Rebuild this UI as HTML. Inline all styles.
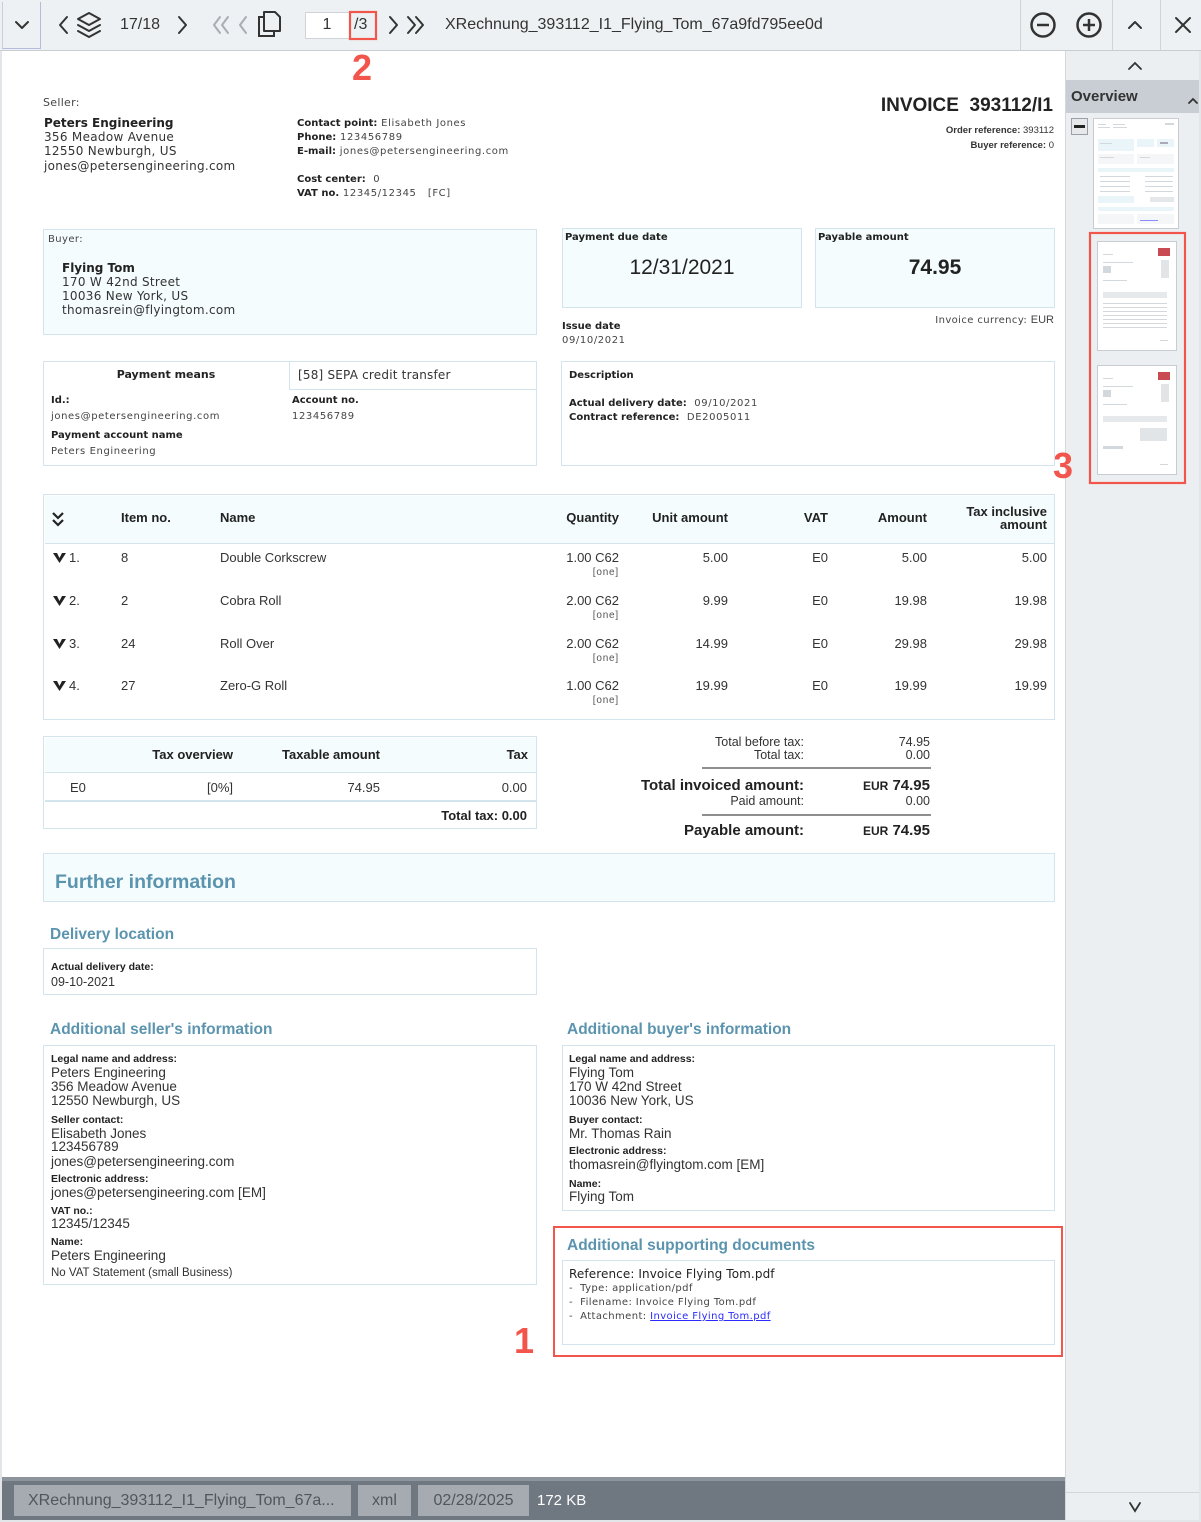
<!DOCTYPE html>
<html><head><meta charset="utf-8">
<style>
*{box-sizing:border-box}
body{margin:0;width:1201px;height:1522px;position:relative;overflow:hidden;background:#e3e6e9;font-family:"DejaVu Sans","Liberation Sans",sans-serif;color:#333}
.a{position:absolute}
.t{position:absolute;white-space:nowrap;line-height:14px;height:14px}
.s12{font-size:12px;letter-spacing:.3px;color:#333}
.s12b{font-size:11.5px;font-weight:bold;color:#222}
.s10{font-size:10px;letter-spacing:.6px;color:#444}
.b10{font-size:10px;font-weight:bold;color:#222}
.L{font-family:"Liberation Sans",sans-serif}
.tb{font-family:"Liberation Sans",sans-serif;font-size:13px;color:#333}
.tbh{font-family:"Liberation Sans",sans-serif;font-size:13px;font-weight:bold;color:#222}
.h{font-family:"Liberation Sans",sans-serif;font-weight:bold;color:#5b94ae;white-space:nowrap;position:absolute}
.box{position:absolute;border:1.5px solid #d3e4ec;background:#fff}
.cy{background:#f4fcfe}
.ci{font-family:"Liberation Sans",sans-serif;font-size:13.5px;color:#333}
.cl{font-family:"Liberation Sans",sans-serif;font-size:11.5px;font-weight:bold;color:#222}
.red{font-family:"Liberation Sans",sans-serif;font-weight:bold;color:#f2554c;position:absolute;font-size:36px;line-height:36px}
</style></head><body>

<!-- toolbar -->
<div class="a" style="left:0;top:0;width:1201px;height:51px;background:#eef1f3;border-bottom:1px solid #c8cdd1"></div>
<div class="a" style="left:2px;top:2px;width:39px;height:47px;border:1px solid #b4bbdd;border-top:none;border-left:1px solid #c9cde6"></div>
<svg class="a" style="left:0;top:0" width="1201" height="51" viewBox="0 0 1201 51">
 <g fill="none" stroke="#333" stroke-width="2" stroke-linecap="round" stroke-linejoin="round">
  <polyline points="16,22 22,28 28,22"/>
  <polyline points="67,17 60,25 67,33"/>
  <polygon points="78,19 89,13 100,19 89,25"/>
  <polyline points="78,25 89,31 100,25"/>
  <polyline points="78,31 89,37 100,31"/>
  <polyline points="179,17 186,25 179,33"/>
  <polyline points="390,17 397,25 390,33"/>
  <polyline points="408,17 415,25 408,33"/>
  <polyline points="416,17 423,25 416,33"/>
  <polyline points="1129,28 1135,22 1141,28"/>
  <line x1="1176" y1="18" x2="1190" y2="32"/><line x1="1190" y1="18" x2="1176" y2="32"/>
 </g>
 <g fill="none" stroke="#a9aeb4" stroke-width="2" stroke-linecap="round" stroke-linejoin="round">
  <polyline points="220,17 214,25 220,33"/>
  <polyline points="228,17 222,25 228,33"/>
  <polyline points="246,17 240,25 246,33"/>
 </g>
 <rect x="259" y="17" width="15" height="19" fill="#eef1f3" stroke="#333" stroke-width="2"/>
 <path d="M264 12 H275 L280 17 V31 H264 Z" fill="#eef1f3" stroke="#333" stroke-width="2" stroke-linejoin="round"/>
 <rect x="305.5" y="12.5" width="44" height="26" fill="#fff" stroke="#d0d4d8"/>
 <rect x="350" y="12" width="26" height="27" fill="none" stroke="#f2554c" stroke-width="2.2"/>
 <g stroke="#cfd4d8" stroke-width="1"><line x1="1020.5" y1="0" x2="1020.5" y2="50"/><line x1="1112.5" y1="0" x2="1112.5" y2="50"/><line x1="1160.5" y1="0" x2="1160.5" y2="50"/></g>
 <circle cx="1043" cy="25" r="11.5" fill="none" stroke="#333" stroke-width="2.5"/>
 <line x1="1037" y1="25" x2="1049" y2="25" stroke="#333" stroke-width="2.5"/>
 <circle cx="1089" cy="25" r="11.5" fill="none" stroke="#333" stroke-width="2.5"/>
 <line x1="1083" y1="25" x2="1095" y2="25" stroke="#333" stroke-width="2.5"/>
 <line x1="1089" y1="19" x2="1089" y2="31" stroke="#333" stroke-width="2.5"/>
</svg>
<div class="t L" style="left:120px;top:15px;font-size:16px;line-height:20px;height:20px;color:#333">17/18</div>
<div class="t L" style="left:305px;top:15px;width:44px;text-align:center;font-size:16px;line-height:20px;height:20px;color:#333">1</div>
<div class="t L" style="left:354px;top:15px;font-size:16px;line-height:20px;height:20px;color:#333">/3</div>
<div class="t L" style="left:445px;top:15px;font-size:16px;line-height:20px;height:20px;color:#333">XRechnung_393112_I1_Flying_Tom_67a9fd795ee0d</div>

<!-- document area -->
<div class="a" style="left:2px;top:51px;width:1063px;height:1427px;background:#fff"></div>

<!-- sidebar -->
<div class="a" style="left:1065px;top:51px;width:134px;height:1469px;background:#eceff1;border-left:1px solid #d5d9dc"></div>
<div class="a" style="left:1066px;top:80px;width:133px;height:33px;background:#c8ced3"></div>
<div class="t L" style="left:1071px;top:87px;font-size:15px;font-weight:bold;line-height:20px;height:20px;color:#333">Overview</div>
<div class="a" style="left:1066px;top:1492px;width:133px;height:1px;background:#d3d7da"></div>
<svg class="a" style="left:1065px;top:51px" width="136" height="1471" viewBox="1065 51 136 1471">
 <g fill="none" stroke="#333" stroke-width="1.8" stroke-linecap="round">
  <polyline points="1129,69 1135,63 1141,69"/>
  <polyline points="1189,103 1193,99 1197,103"/>
  <polyline points="1130,1503 1135,1511 1140,1503"/>
 </g>
 <rect x="1071.5" y="118.5" width="16" height="16" fill="#e6e8ea" stroke="#9aa0a6"/>
 <rect x="1074" y="125" width="11" height="3" fill="#222"/>
 <rect x="1093.5" y="118.5" width="85" height="110" fill="#fff" stroke="#c9cdd1"/>
 <g fill="#d3d8dc">
  <rect x="1098" y="124" width="8" height="1"/><rect x="1113" y="124" width="12" height="1"/><rect x="1165" y="123" width="9" height="2"/>
  <rect x="1098" y="127" width="12" height="1"/><rect x="1113" y="127" width="14" height="1"/>
  <rect x="1098" y="139" width="36" height="12" fill="#eaf5f9"/><rect x="1137" y="139" width="17" height="8" fill="#eaf5f9"/><rect x="1157" y="139" width="17" height="8" fill="#eaf5f9"/>
  <rect x="1100" y="143" width="12" height="1"/><rect x="1160" y="142" width="8" height="2" fill="#aab"/>
  <rect x="1098" y="154" width="36" height="10" fill="#f4f6f7"/><rect x="1137" y="154" width="37" height="10" fill="#f4f6f7"/>
  <rect x="1100" y="157" width="14" height="1"/><rect x="1140" y="157" width="10" height="1"/>
  <rect x="1098" y="168" width="76" height="4" fill="#eaf5f9"/>
  <rect x="1100" y="176" width="30" height="1"/><rect x="1145" y="176" width="28" height="1"/>
  <rect x="1100" y="181" width="30" height="1"/><rect x="1145" y="181" width="28" height="1"/>
  <rect x="1100" y="186" width="30" height="1"/><rect x="1145" y="186" width="28" height="1"/>
  <rect x="1100" y="191" width="30" height="1"/><rect x="1145" y="191" width="28" height="1"/>
  <rect x="1098" y="196" width="36" height="7" fill="#eaf5f9"/><rect x="1150" y="197" width="24" height="5" fill="#e5e8eb"/>
  <rect x="1098" y="207" width="76" height="4" fill="#eaf5f9"/>
  <rect x="1098" y="214" width="36" height="10" fill="#f4f6f7"/><rect x="1137" y="214" width="37" height="10" fill="#f4f6f7"/>
  <rect x="1140" y="220" width="18" height="1" fill="#8b8bff"/>
 </g>
 <rect x="1090" y="233" width="95" height="250" fill="none" stroke="#f2554c" stroke-width="2.2"/>
 <rect x="1097.5" y="241.5" width="79" height="109" fill="#fff" stroke="#c9cdd1"/>
 <rect x="1097.5" y="365.5" width="79" height="109" fill="#fff" stroke="#c9cdd1"/>
 <g fill="#d3d8dc">
  <rect x="1103" y="254" width="10" height="1"/><rect x="1158" y="248" width="12" height="8" fill="#c84a52"/>
  <rect x="1103" y="262" width="30" height="1"/><rect x="1103" y="266" width="8" height="7"/><rect x="1161" y="260" width="8" height="18" fill="#e2e5e8"/>
  <rect x="1103" y="280" width="24" height="1"/>
  <rect x="1103" y="292" width="64" height="6" fill="#e6e9ec"/>
  <rect x="1103" y="303" width="64" height="1"/><rect x="1103" y="307" width="64" height="1"/><rect x="1103" y="311" width="64" height="1"/><rect x="1103" y="315" width="64" height="1"/><rect x="1103" y="319" width="64" height="1"/><rect x="1103" y="323" width="64" height="1"/><rect x="1103" y="327" width="64" height="1"/>
  <rect x="1160" y="340" width="8" height="1"/>
  <rect x="1103" y="378" width="10" height="1"/><rect x="1158" y="372" width="12" height="8" fill="#c84a52"/>
  <rect x="1103" y="386" width="30" height="1"/><rect x="1103" y="390" width="8" height="7"/><rect x="1161" y="384" width="8" height="18" fill="#e2e5e8"/>
  <rect x="1103" y="404" width="24" height="1"/>
  <rect x="1103" y="416" width="64" height="6" fill="#e6e9ec"/>
  <rect x="1140" y="428" width="27" height="13" fill="#e2e5e8"/>
  <rect x="1103" y="446" width="20" height="3"/>
  <rect x="1160" y="464" width="8" height="1"/>
 </g>
</svg>

<!-- status bar -->
<div class="a" style="left:2px;top:1477px;width:1063px;height:43px;background:#6f7780;border-top:4px solid #8d949b"></div>
<div class="a L" style="left:14px;top:1485px;width:337px;height:31px;background:#a5abb1;color:#50565d;font-size:16px;line-height:31px;padding-left:14px;white-space:nowrap">XRechnung_393112_I1_Flying_Tom_67a...</div>
<div class="a L" style="left:358px;top:1485px;width:53px;height:31px;background:#a5abb1;color:#50565d;font-size:16px;line-height:31px;text-align:center">xml</div>
<div class="a L" style="left:418px;top:1485px;width:111px;height:31px;background:#a5abb1;color:#50565d;font-size:16px;line-height:31px;text-align:center">02/28/2025</div>
<div class="a L" style="left:537px;top:1485px;color:#fff;font-size:15px;line-height:31px">172 KB</div>

<!-- red markers -->
<div class="red" style="left:352px;top:50px">2</div>
<div class="red" style="left:1053px;top:448px">3</div>
<div class="red" style="left:514px;top:1323px">1</div>

<!-- header: seller -->
<div class="t s10" style="left:43px;top:96px;font-size:11px;letter-spacing:.3px">Seller:</div>
<div class="t" style="left:44px;top:116px;font-size:12px;font-weight:bold;color:#222">Peters Engineering</div>
<div class="t s12" style="left:44px;top:130px">356 Meadow Avenue</div>
<div class="t s12" style="left:44px;top:144px">12550 Newburgh, US</div>
<div class="t s12" style="left:44px;top:159px">jones@petersengineering.com</div>

<div class="t s10" style="left:297px;top:117px"><b style="color:#222;letter-spacing:0">Contact point:</b> Elisabeth Jones</div>
<div class="t s10" style="left:297px;top:131px"><b style="color:#222;letter-spacing:0">Phone:</b> 123456789</div>
<div class="t s10" style="left:297px;top:145px"><b style="color:#222;letter-spacing:0">E-mail:</b> jones@petersengineering.com</div>
<div class="t s10" style="left:297px;top:173px"><b style="color:#222;letter-spacing:0">Cost center:</b>&nbsp; 0</div>
<div class="t s10" style="left:297px;top:187px"><b style="color:#222;letter-spacing:0">VAT no.</b> 12345/12345 &nbsp;&nbsp;[FC]</div>

<div class="t L" style="right:148px;top:95px;font-size:19px;font-weight:bold;line-height:22px;height:22px;color:#222;text-align:right">INVOICE&nbsp; 393112/I1</div>
<div class="t L" style="right:147px;top:124px;font-size:9.5px;color:#333;text-align:right"><b>Order reference:</b> 393112</div>
<div class="t L" style="right:147px;top:139px;font-size:9.5px;color:#333;text-align:right"><b>Buyer reference:</b> 0</div>

<!-- buyer box -->
<div class="box cy" style="left:43px;top:229px;width:494px;height:106px"></div>
<div class="t s10" style="left:48px;top:233px;letter-spacing:.4px">Buyer:</div>
<div class="t" style="left:62px;top:261px;font-size:12px;font-weight:bold;color:#222">Flying Tom</div>
<div class="t s12" style="left:62px;top:275px">170 W 42nd Street</div>
<div class="t s12" style="left:62px;top:289px">10036 New York, US</div>
<div class="t s12" style="left:62px;top:303px">thomasrein@flyingtom.com</div>

<!-- payment due / payable -->
<div class="box cy" style="left:562px;top:228px;width:240px;height:80px"></div>
<div class="t b10" style="left:565px;top:231px">Payment due date</div>
<div class="t L" style="left:562px;top:255px;width:240px;text-align:center;font-size:21px;line-height:26px;height:26px;color:#222">12/31/2021</div>
<div class="box cy" style="left:815px;top:228px;width:240px;height:80px"></div>
<div class="t b10" style="left:818px;top:231px">Payable amount</div>
<div class="t L" style="left:815px;top:255px;width:240px;text-align:center;font-size:21px;font-weight:bold;line-height:26px;height:26px;color:#222">74.95</div>
<div class="t s10" style="right:147px;top:313px;text-align:right;letter-spacing:.4px">Invoice currency: <span style="font-family:'Liberation Sans';font-size:11px;letter-spacing:0">EUR</span></div>
<div class="t b10" style="left:562px;top:320px">Issue date</div>
<div class="t s10" style="left:562px;top:334px">09/10/2021</div>

<!-- payment means -->
<div class="box" style="left:43px;top:361px;width:494px;height:105px"></div>
<div class="a" style="left:289px;top:361px;width:248px;height:29px;border-left:1.5px solid #d3e4ec;border-bottom:1.5px solid #d3e4ec"></div>
<div class="t" style="left:43px;top:368px;width:246px;text-align:center;font-size:11px;font-weight:bold;color:#222">Payment means</div>
<div class="t s12" style="left:298px;top:368px;letter-spacing:.2px">[58] SEPA credit transfer</div>
<div class="t b10" style="left:51px;top:394px">Id.:</div>
<div class="t s10" style="left:51px;top:410px">jones@petersengineering.com</div>
<div class="t b10" style="left:51px;top:429px">Payment account name</div>
<div class="t s10" style="left:51px;top:445px">Peters Engineering</div>
<div class="t b10" style="left:292px;top:394px">Account no.</div>
<div class="t s10" style="left:292px;top:410px">123456789</div>

<!-- description -->
<div class="box" style="left:561px;top:361px;width:494px;height:105px"></div>
<div class="t b10" style="left:569px;top:369px">Description</div>
<div class="t s10" style="left:569px;top:397px"><b style="color:#222;letter-spacing:0">Actual delivery date:</b>&nbsp; 09/10/2021</div>
<div class="t s10" style="left:569px;top:411px"><b style="color:#222;letter-spacing:0">Contract reference:</b>&nbsp; DE2005011</div>

<!-- items table -->
<div class="box" style="left:43px;top:494px;width:1012px;height:226px"></div>
<div class="a cy" style="left:44.5px;top:495.5px;width:1009px;height:48px;border-bottom:1.5px solid #d3e4ec"></div>
<svg class="a" style="left:50px;top:510px" width="18" height="20" viewBox="0 0 18 20">
 <g fill="none" stroke="#222" stroke-width="2.2"><polyline points="3,3 8,8 13,3"/><polyline points="3,10 8,15 13,10"/></g>
</svg>
<div class="t tbh" style="left:121px;top:511px">Item no.</div>
<div class="t tbh" style="left:220px;top:511px">Name</div>
<div class="t tbh" style="right:582px;top:511px">Quantity</div>
<div class="t tbh" style="right:473px;top:511px">Unit amount</div>
<div class="t tbh" style="right:373px;top:511px">VAT</div>
<div class="t tbh" style="right:274px;top:511px">Amount</div>
<div class="t tbh" style="right:154px;top:505px;line-height:13px">Tax inclusive</div>
<div class="t tbh" style="right:154px;top:518px;line-height:13px">amount</div>

<svg class="a" style="left:53px;top:553px" width="14" height="150" viewBox="0 0 14 150">
 <g fill="#222">
  <path d="M0 0 H4 L6.5 5 L9 0 H13 L6.5 10 Z"/>
  <path d="M0 43 H4 L6.5 48 L9 43 H13 L6.5 53 Z"/>
  <path d="M0 86 H4 L6.5 91 L9 86 H13 L6.5 96 Z"/>
  <path d="M0 128 H4 L6.5 133 L9 128 H13 L6.5 138 Z"/>
 </g>
</svg>

<div class="t tb" style="left:69px;top:551px">1.</div>
<div class="t tb" style="left:121px;top:551px">8</div>
<div class="t tb" style="left:220px;top:551px">Double Corkscrew</div>
<div class="t tb" style="right:582px;top:551px">1.00 C62</div>
<div class="t tb" style="right:582px;top:566px;font-size:10px;letter-spacing:.8px;color:#555">[one]</div>
<div class="t tb" style="right:473px;top:551px">5.00</div>
<div class="t tb" style="right:373px;top:551px">E0</div>
<div class="t tb" style="right:274px;top:551px">5.00</div>
<div class="t tb" style="right:154px;top:551px">5.00</div>

<div class="t tb" style="left:69px;top:594px">2.</div>
<div class="t tb" style="left:121px;top:594px">2</div>
<div class="t tb" style="left:220px;top:594px">Cobra Roll</div>
<div class="t tb" style="right:582px;top:594px">2.00 C62</div>
<div class="t tb" style="right:582px;top:609px;font-size:10px;letter-spacing:.8px;color:#555">[one]</div>
<div class="t tb" style="right:473px;top:594px">9.99</div>
<div class="t tb" style="right:373px;top:594px">E0</div>
<div class="t tb" style="right:274px;top:594px">19.98</div>
<div class="t tb" style="right:154px;top:594px">19.98</div>

<div class="t tb" style="left:69px;top:637px">3.</div>
<div class="t tb" style="left:121px;top:637px">24</div>
<div class="t tb" style="left:220px;top:637px">Roll Over</div>
<div class="t tb" style="right:582px;top:637px">2.00 C62</div>
<div class="t tb" style="right:582px;top:652px;font-size:10px;letter-spacing:.8px;color:#555">[one]</div>
<div class="t tb" style="right:473px;top:637px">14.99</div>
<div class="t tb" style="right:373px;top:637px">E0</div>
<div class="t tb" style="right:274px;top:637px">29.98</div>
<div class="t tb" style="right:154px;top:637px">29.98</div>

<div class="t tb" style="left:69px;top:679px">4.</div>
<div class="t tb" style="left:121px;top:679px">27</div>
<div class="t tb" style="left:220px;top:679px">Zero-G Roll</div>
<div class="t tb" style="right:582px;top:679px">1.00 C62</div>
<div class="t tb" style="right:582px;top:694px;font-size:10px;letter-spacing:.8px;color:#555">[one]</div>
<div class="t tb" style="right:473px;top:679px">19.99</div>
<div class="t tb" style="right:373px;top:679px">E0</div>
<div class="t tb" style="right:274px;top:679px">19.99</div>
<div class="t tb" style="right:154px;top:679px">19.99</div>

<!-- tax overview -->
<div class="box" style="left:43px;top:736px;width:494px;height:93px"></div>
<div class="a cy" style="left:44.5px;top:737.5px;width:491px;height:35px;border-bottom:1.5px solid #d3e4ec"></div>
<div class="a" style="left:44.5px;top:800px;width:491px;height:1.5px;background:#d3e4ec"></div>
<div class="t tbh" style="right:968px;top:748px">Tax overview</div>
<div class="t tbh" style="right:821px;top:748px">Taxable amount</div>
<div class="t tbh" style="right:673px;top:748px">Tax</div>
<div class="t tb" style="left:70px;top:781px">E0</div>
<div class="t tb" style="right:968px;top:781px">[0%]</div>
<div class="t tb" style="right:821px;top:781px">74.95</div>
<div class="t tb" style="right:674px;top:781px">0.00</div>
<div class="t tbh" style="right:674px;top:809px">Total tax: 0.00</div>

<!-- totals -->
<div class="t tb" style="right:397px;top:735px;font-size:12.5px">Total before tax:</div>
<div class="t tb" style="right:271px;top:735px;font-size:12.5px">74.95</div>
<div class="t tb" style="right:397px;top:748px;font-size:12.5px">Total tax:</div>
<div class="t tb" style="right:271px;top:748px;font-size:12.5px">0.00</div>
<div class="a" style="left:702px;top:767px;width:229px;height:2px;background:#8f8f8f"></div>
<div class="t tbh" style="right:397px;top:777px;font-size:15px;line-height:17px;height:17px">Total invoiced amount:</div>
<div class="t tbh" style="right:271px;top:777px;font-size:15px;line-height:17px;height:17px"><span style="font-size:12px">EUR</span> 74.95</div>
<div class="t tb" style="right:397px;top:794px;font-size:12.5px">Paid amount:</div>
<div class="t tb" style="right:271px;top:794px;font-size:12.5px">0.00</div>
<div class="a" style="left:702px;top:814px;width:229px;height:2px;background:#8f8f8f"></div>
<div class="t tbh" style="right:397px;top:822px;font-size:15px;line-height:17px;height:17px">Payable amount:</div>
<div class="t tbh" style="right:271px;top:822px;font-size:15px;line-height:17px;height:17px"><span style="font-size:12px">EUR</span> 74.95</div>

<!-- further information -->
<div class="box cy" style="left:43px;top:853px;width:1012px;height:49px"></div>
<div class="h" style="left:55px;top:870px;font-size:19.5px;line-height:24px">Further information</div>

<div class="h" style="left:50px;top:925px;font-size:15.5px;line-height:19px">Delivery location</div>
<div class="box" style="left:43px;top:948px;width:494px;height:47px"></div>
<div class="t cl" style="left:51px;top:960px;font-size:10.5px">Actual delivery date:</div>
<div class="t ci" style="left:51px;top:975px;font-size:12.5px">09-10-2021</div>

<!-- additional seller -->
<div class="h" style="left:50px;top:1020px;font-size:15.5px;line-height:19px">Additional seller's information</div>
<div class="box" style="left:43px;top:1045px;width:494px;height:240px"></div>
<div class="t cl" style="left:51px;top:1052px;font-size:10.5px">Legal name and address:</div>
<div class="t ci" style="left:51px;top:1066px">Peters Engineering</div>
<div class="t ci" style="left:51px;top:1080px">356 Meadow Avenue</div>
<div class="t ci" style="left:51px;top:1094px">12550 Newburgh, US</div>
<div class="t cl" style="left:51px;top:1113px;font-size:10.5px">Seller contact:</div>
<div class="t ci" style="left:51px;top:1127px">Elisabeth Jones</div>
<div class="t ci" style="left:51px;top:1140px">123456789</div>
<div class="t ci" style="left:51px;top:1155px">jones@petersengineering.com</div>
<div class="t cl" style="left:51px;top:1172px;font-size:10.5px">Electronic address:</div>
<div class="t ci" style="left:51px;top:1186px">jones@petersengineering.com [EM]</div>
<div class="t cl" style="left:51px;top:1204px;font-size:10.5px">VAT no.:</div>
<div class="t ci" style="left:51px;top:1217px">12345/12345</div>
<div class="t cl" style="left:51px;top:1235px;font-size:10.5px">Name:</div>
<div class="t ci" style="left:51px;top:1249px">Peters Engineering</div>
<div class="t ci" style="left:51px;top:1266px;font-size:11.5px">No VAT Statement (small Business)</div>

<!-- additional buyer -->
<div class="h" style="left:567px;top:1020px;font-size:15.5px;line-height:19px">Additional buyer's information</div>
<div class="box" style="left:562px;top:1045px;width:493px;height:166px"></div>
<div class="t cl" style="left:569px;top:1052px;font-size:10.5px">Legal name and address:</div>
<div class="t ci" style="left:569px;top:1066px">Flying Tom</div>
<div class="t ci" style="left:569px;top:1080px">170 W 42nd Street</div>
<div class="t ci" style="left:569px;top:1094px">10036 New York, US</div>
<div class="t cl" style="left:569px;top:1113px;font-size:10.5px">Buyer contact:</div>
<div class="t ci" style="left:569px;top:1127px">Mr. Thomas Rain</div>
<div class="t cl" style="left:569px;top:1144px;font-size:10.5px">Electronic address:</div>
<div class="t ci" style="left:569px;top:1158px">thomasrein@flyingtom.com [EM]</div>
<div class="t cl" style="left:569px;top:1177px;font-size:10.5px">Name:</div>
<div class="t ci" style="left:569px;top:1190px">Flying Tom</div>

<!-- supporting documents -->
<div class="a" style="left:553px;top:1226px;width:510px;height:131px;border:2.2px solid #f2554c"></div>
<div class="h" style="left:567px;top:1236px;font-size:15.5px;line-height:19px">Additional supporting documents</div>
<div class="box" style="left:562px;top:1260px;width:493px;height:85px"></div>
<div class="t s12" style="left:569px;top:1267px;letter-spacing:.1px;color:#222">Reference: Invoice Flying Tom.pdf</div>
<div class="t s10" style="left:569px;top:1282px;letter-spacing:.4px">- &nbsp;Type: application/pdf</div>
<div class="t s10" style="left:569px;top:1296px;letter-spacing:.4px">- &nbsp;Filename: Invoice Flying Tom.pdf</div>
<div class="t s10" style="left:569px;top:1310px;letter-spacing:.4px">- &nbsp;Attachment: <span style="color:#2b2bff;text-decoration:underline">Invoice Flying Tom.pdf</span></div>

<!-- outer frame edges -->
<div class="a" style="left:0;top:51px;width:2px;height:1471px;background:#e3e6e9"></div>
<div class="a" style="left:0;top:1520px;width:1201px;height:2px;background:#e3e6e9"></div>
</body></html>
